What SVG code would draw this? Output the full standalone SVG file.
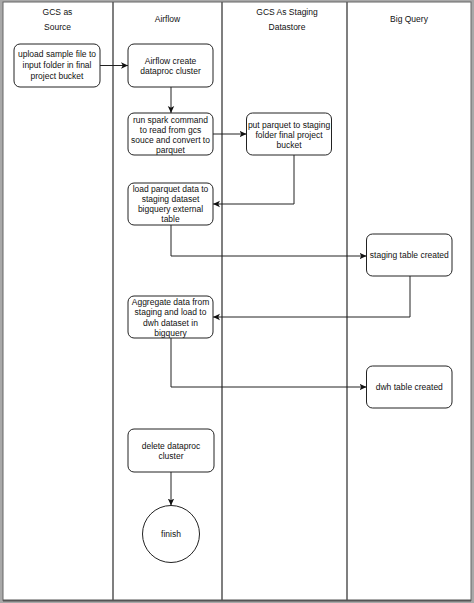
<svg xmlns="http://www.w3.org/2000/svg" width="474" height="603" viewBox="0 0 474 603">
<defs>
<marker id="ah" markerWidth="8" markerHeight="8" refX="7" refY="4" orient="auto" markerUnits="userSpaceOnUse">
<path d="M0,0.8 L7,4 L0,7.2 L1.8,4 Z" fill="#111"/>
</marker>
</defs>
<style>
text{font-family:"Liberation Sans",Arial,sans-serif;font-size:8.5px;fill:#111;text-anchor:middle}
.box{fill:#fff;stroke:#222;stroke-width:1}
.lane{stroke:#555;stroke-width:1.5;fill:none}
.conn path{fill:none;stroke:#222;stroke-width:1;marker-end:url(#ah)}
</style>
<rect x="0" y="0" width="474" height="603" fill="#a8a8a8"/>
<rect x="3" y="2" width="468" height="598.5" fill="#fff" stroke="#666" stroke-width="1"/>
<g id="lanes">
<line class="lane" x1="113" y1="2" x2="113" y2="600.5"/>
<line class="lane" x1="222" y1="2" x2="222" y2="600.5"/>
<line class="lane" x1="347" y1="2" x2="347" y2="600.5"/>
<line x1="3" y1="600.5" x2="471" y2="600.5" stroke="#555" stroke-width="2"/>
</g>
<g id="headers">
<text x="57.5" y="15.3">GCS as</text>
<text x="57.5" y="29.6">Source</text>
<text x="167.5" y="22">Airflow</text>
<text x="287" y="15.3">GCS As Staging</text>
<text x="287" y="29.6">Datastore</text>
<text x="409" y="22">Big Query</text>
</g>
<g class="conn" id="connectors">
<path d="M100,65.5 L128,65.5"/>
<path d="M171,87 L171,113"/>
<path d="M213,134 L246.5,134"/>
<path d="M294,155 L294,204 L213,204"/>
<path d="M171,225 L171,256 L366.5,256"/>
<path d="M410,276 L410,317 L213,317"/>
<path d="M171,338 L171,387 L366.5,387"/>
<path d="M171,472 L171,505.5"/>
</g>
<g id="n1"><rect class="box" x="14" y="44" width="86" height="43" rx="6"/>
<text x="57" y="57.3">upload sample file to</text><text x="57" y="68.3">input folder in final</text><text x="57" y="79">project bucket</text></g>
<g id="n2"><rect class="box" x="128" y="44" width="85" height="43" rx="6"/>
<text x="170.5" y="64">Airflow create</text><text x="170.5" y="74">dataproc cluster</text></g>
<g id="n3"><rect class="box" x="128" y="113" width="85" height="42" rx="6"/>
<text x="170.5" y="122.7">run spark command</text><text x="170.5" y="132.7">to read from gcs</text><text x="170.5" y="143.2">souce and convert to</text><text x="170.5" y="153.3">parquet</text></g>
<g id="n4"><rect class="box" x="246.5" y="113" width="85" height="42" rx="6"/>
<text x="289" y="128.3">put parquet to staging</text><text x="289" y="138.3">folder final project</text><text x="289" y="148.3">bucket</text></g>
<g id="n5"><rect class="box" x="128" y="183" width="85" height="42" rx="6"/>
<text x="170.5" y="192.3">load parquet data to</text><text x="170.5" y="202.3">staging dataset</text><text x="170.5" y="212.3">bigquery external</text><text x="170.5" y="222.3">table</text></g>
<g id="n6"><rect class="box" x="366.5" y="234" width="85.5" height="42" rx="6"/>
<text x="409.3" y="258">staging table created</text></g>
<g id="n7"><rect class="box" x="128" y="296" width="85" height="42" rx="6"/>
<text x="170.5" y="305">Aggregate data from</text><text x="170.5" y="315.3">staging and load to</text><text x="170.5" y="325.7">dwh dataset in</text><text x="170.5" y="336">bigquery</text></g>
<g id="n8"><rect class="box" x="366.5" y="366" width="85.5" height="42" rx="6"/>
<text x="409.3" y="389.7">dwh table created</text></g>
<g id="n9"><rect class="box" x="128" y="429" width="86" height="43" rx="6"/>
<text x="171" y="449">delete dataproc</text><text x="171" y="459">cluster</text></g>
<g id="n10"><circle class="box" cx="171" cy="534" r="28.5"/>
<text x="171" y="537">finish</text></g>
</svg>
